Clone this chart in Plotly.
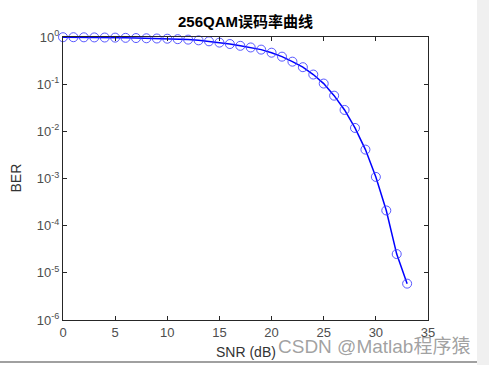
import plotly.graph_objects as go

snr = list(range(0, 34))
ber = [0.99, 0.99, 0.985, 0.98, 0.975, 0.97, 0.96, 0.95, 0.94, 0.93,
       0.92, 0.90, 0.88, 0.85, 0.81, 0.76, 0.71, 0.65, 0.60, 0.54,
       0.465, 0.383, 0.30, 0.229, 0.16, 0.103, 0.057, 0.0284, 0.0118, 0.0041,
       1.08e-3, 2.1e-4, 2.5e-5, 5.9e-6]

y_tickvals = [1e0, 1e-1, 1e-2, 1e-3, 1e-4, 1e-5, 1e-6]
y_ticktext = ["10<sup>0</sup>", "10<sup>-1</sup>", "10<sup>-2</sup>", "10<sup>-3</sup>",
              "10<sup>-4</sup>", "10<sup>-5</sup>", "10<sup>-6</sup>"]
x_tickvals = [0, 5, 10, 15, 20, 25, 30, 35]

title_text = "256QAM误码率曲线"
x_label = "SNR (dB)"
y_label = "BER"
watermark = "CSDN @Matlab程序猿"

FONT = "Liberation Sans, Arial, Noto Sans CJK SC, sans-serif"
AXC = "#262626"

fig = go.Figure()
fig.add_trace(go.Scatter(
    x=snr, y=ber, mode="lines+markers",
    line=dict(color="#0000ff", width=1.5),
    marker=dict(symbol="circle-open", size=9, color="rgba(60,60,255,0.85)",
                line=dict(width=1, color="rgba(60,60,255,0.85)")),
    cliponaxis=False, showlegend=False,
))

W, H = 489, 365
L, R, T, B = 63, 61, 37, 45
pw, ph = W - L - R, H - T - B

fig.update_layout(
    width=W, height=H,
    margin=dict(l=L, r=R, t=T, b=B, pad=0),
    paper_bgcolor="white", plot_bgcolor="white",
    font=dict(family=FONT, size=13, color="#4d4d4d"),
    title=dict(text="<b>" + title_text + "</b>", x=(L + pw / 2) / W, xanchor="center",
               y=1 - 22 / H, yanchor="middle", yref="container",
               font=dict(family=FONT, size=15, color="#000000")),
    xaxis=dict(range=[0, 35], tickvals=x_tickvals, ticks="inside", ticklen=4,
               tickcolor=AXC, showline=True, linecolor=AXC, linewidth=1, mirror="ticks",
               showgrid=False, zeroline=False, tickfont=dict(size=13, color="#4d4d4d")),
    yaxis=dict(type="log", range=[-6, 0], tickvals=y_tickvals, ticktext=y_ticktext,
               ticks="inside", ticklen=4, tickcolor=AXC, showline=True, linecolor=AXC,
               linewidth=1, mirror="ticks", showgrid=False, zeroline=False,
               tickfont=dict(size=13, color="#4d4d4d")),
    annotations=[
        dict(text=x_label, xref="paper", yref="paper", x=0.5, y=-(352 - T - ph) / ph,
             xanchor="center", yanchor="middle", showarrow=False,
             font=dict(family=FONT, size=14, color="#333333")),
        dict(text=y_label, xref="paper", yref="paper", x=-(L - 15) / pw, y=0.5,
             xanchor="center", yanchor="middle", textangle=-90, showarrow=False,
             font=dict(family=FONT, size=14, color="#333333")),
        dict(text=watermark, xref="paper", yref="paper", x=(374 - L) / pw,
             y=-(346 - T - ph) / ph, xanchor="center", yanchor="middle", showarrow=False,
             font=dict(family=FONT, size=19, color="rgba(120,120,120,0.7)")),
    ],
    shapes=[
        dict(type="rect", xref="paper", yref="paper",
             x0=(477 - L) / pw, x1=(W - L) / pw, y0=-(H - T - ph) / ph, y1=(T + ph) / ph,
             fillcolor="#f0f0f0", line=dict(width=0), layer="below"),
        dict(type="line", xref="paper", yref="paper",
             x0=-L / pw, x1=(477 - L) / pw, y0=-(362 - T - ph) / ph, y1=-(362 - T - ph) / ph,
             line=dict(color="#a0a0a0", width=2)),
    ],
)

fig.write_html("out.html")
